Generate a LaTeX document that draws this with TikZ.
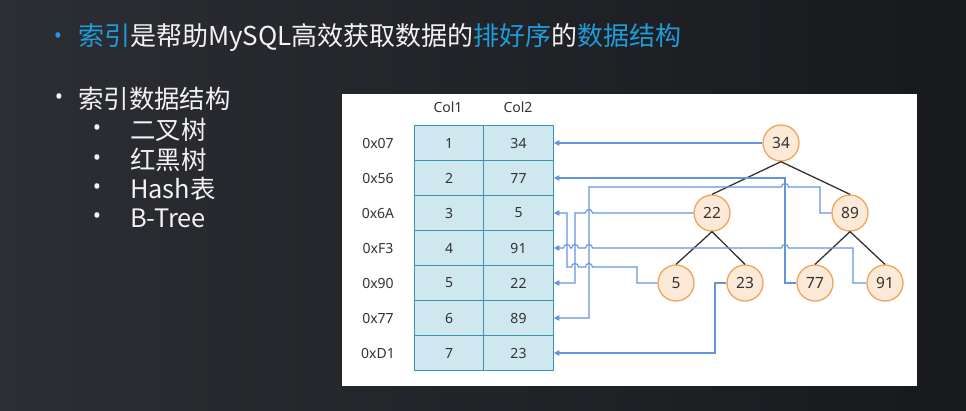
\documentclass[tikz,border=0pt]{standalone}
\usepackage{fontspec}
\setmainfont{Noto Sans}
\newfontfamily\cjk{Noto Sans CJK SC}
\usetikzlibrary{arrows.meta}
\definecolor{bgA}{HTML}{2C2E33}
\definecolor{bgB}{HTML}{17191D}
\definecolor{ttlblue}{HTML}{1E9BD8}
\definecolor{txtw}{HTML}{F2F2F2}
\definecolor{cellfill}{HTML}{CFE7EF}
\definecolor{celldraw}{HTML}{3C93AE}
\definecolor{nodefill}{HTML}{FDE9D8}
\definecolor{nodedraw}{HTML}{F0A45C}
\definecolor{connc}{HTML}{6394DC}
\definecolor{ink}{HTML}{333333}
\begin{document}
\begin{tikzpicture}[x=1pt,y=-1pt,
  cell/.style={draw=celldraw,fill=cellfill,line width=1.2pt,minimum width=69.5pt,minimum height=35pt,inner sep=0pt,font=\fontsize{14}{16}\selectfont,text=ink},
  addr/.style={font=\fontsize{14}{16}\selectfont,text=ink,inner sep=0pt},
  tnode/.style={circle,draw=nodedraw,fill=nodefill,line width=1.3pt,minimum size=36pt,inner sep=0pt,font=\fontsize{15.5}{17}\selectfont,text=ink},
  edge/.style={draw=ink,line width=1.3pt},
  link/.style={draw=connc,line width=1.1pt,-{Triangle[length=5.5pt,width=5.5pt]}},
  hopover/.style 2 args={insert path={-- (#1+3.5,#2) .. controls (#1+3.5,#2-4.7) and (#1-3.5,#2-4.7) .. (#1-3.5,#2)}},
  bigtxt/.style={font=\cjk\fontsize{25.4}{30}\selectfont,text=txtw,inner sep=0pt,anchor=west},
  bul/.style={font=\fontsize{22}{26}\selectfont,text=txtw,inner sep=0pt}
]
\useasboundingbox (0,0) rectangle (966,410);
\shade[left color=bgA,right color=bgB] (0,0) rectangle (966,410);
% white panel
\fill[white] (342,94) rectangle (917,386);

% title
\node[bul,text=ttlblue] (tb) at (58,38) {•};
\node[bigtxt,font=\cjk\fontsize{26}{30}\selectfont] (title) at (78,38) {\textcolor{ttlblue}{索引}是帮助MySQL高效获取数据的\textcolor{ttlblue}{排好序}的\textcolor{ttlblue}{数据结构}};

% list
\node[bul] (lb0) at (59,99) {•};
\node[bigtxt] (l0) at (78,99) {索引数据结构};
\node[bul] (lb1) at (97,130) {•};
\node[bigtxt] (l1) at (130,130) {二叉树};
\node[bul] (lb2) at (97,160) {•};
\node[bigtxt] (l2) at (130,160) {红黑树};
\node[bul] (lb3) at (97,189) {•};
\node[bigtxt] (l3) at (130,189) {Hash表};
\node[bul] (lb4) at (97,218) {•};
\node[bigtxt] (l4) at (130,218) {B-Tree};

% table headers
\node[addr] (h1) at (448,107) {Col1};
\node[addr] (h2) at (518,107) {Col2};

% table
\foreach \i/\ad/\va/\vb in {1/0x07/1/34,2/0x56/2/77,3/0x6A/3/5,4/0xF3/4/91,5/0x90/5/22,6/0x77/6/89,7/0xD1/7/23}{
  \node[addr] (d\i) at (378,{143+35*(\i-1)}) {\ad};
  \node[cell] (a\i) at (449,{143+35*(\i-1)}) {\va};
  \node[cell] (b\i) at (518.5,{143+35*(\i-1)}) {\vb};
}

% tree nodes
\node[tnode] (t34) at (781,143) {34};
\node[tnode] (t22) at (712,213) {22};
\node[tnode] (t89) at (850,213) {89};
\node[tnode] (t5)  at (676,283) {5};
\node[tnode] (t23) at (745,283) {23};
\node[tnode] (t77) at (815,283) {77};
\node[tnode] (t91) at (885,283) {91};

% tree edges
\draw[edge] (t34.south) -- (t22.north);
\draw[edge] (t34.south) -- (t89.north);
\draw[edge] (t22.south) -- (t5.north);
\draw[edge] (t22.south) -- (t23.north);
\draw[edge] (t89.south) -- (t77.north);
\draw[edge] (t89.south) -- (t91.north);

% connectors
\draw[link] (t34.west) -- (b1.east);
\draw[link] (t77.west) -- (785,283) -- (785,178) -- (b2.east);
\draw[link] (t5.west) -- (637,283) -- (637,267) [hopover={589}{267}] [hopover={575}{267}] -- (567,267) -- (567,213) -- (b3.east);
\draw[link] (t91.west) -- (853,283) -- (853,248) [hopover={785}{248}] [hopover={589}{248}] [hopover={575}{248}] [hopover={567}{248}] -- (b4.east);
\draw[link] (t22.west) [hopover={589}{213}] -- (575,213) -- (575,283) -- (b5.east);
\draw[link] (t89.west) -- (820,213) -- (820,187) [hopover={785}{187}] -- (589,187) -- (589,318) -- (b6.east);
\draw[link] (t23.west) -- (715,283) -- (715,353) -- (b7.east);
\end{tikzpicture}
\end{document}
